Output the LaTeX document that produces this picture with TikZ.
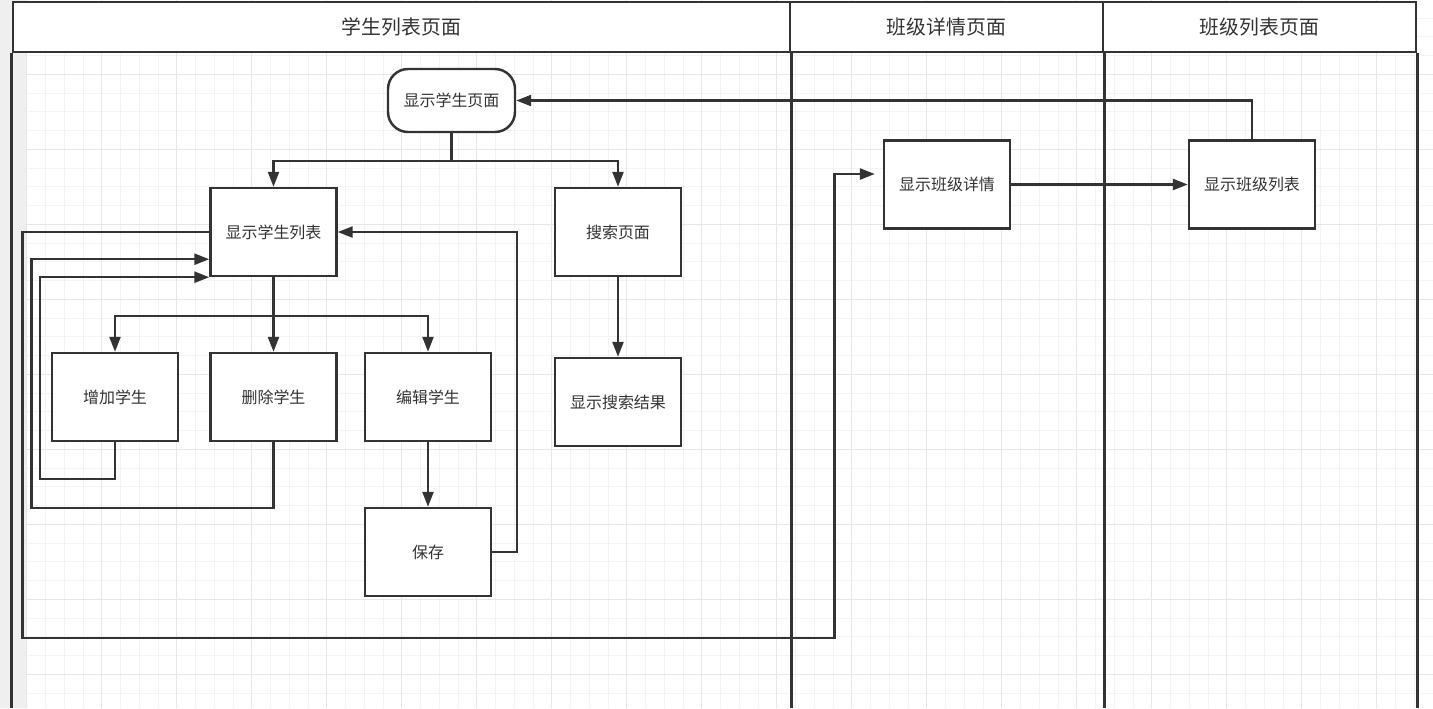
\documentclass[tikz,border=0pt]{standalone}
\usepackage{fontspec}
\setmainfont{Noto Sans CJK SC}
\usetikzlibrary{arrows.meta}
\definecolor{ink}{HTML}{333333}
\definecolor{pale}{HTML}{EFEFEF}
\definecolor{gridminor}{HTML}{F3F3F3}
\definecolor{gridmajor}{HTML}{E6E6E6}
\begin{document}
\begin{tikzpicture}[x=0.02cm, y=-0.02cm,
        box/.style={draw=ink, fill=white, line width=1.4pt, minimum width=2.52cm, minimum height=1.76cm,
            inner sep=0pt, text=ink, font=\fontsize{9.1pt}{11pt}\selectfont},
        startbox/.style={box, rounded corners=0.4cm, minimum width=2.54cm, minimum height=1.26cm},
        lanehead/.style={draw=ink, fill=white, line width=1.5pt, minimum height=1cm, inner sep=0pt,
            text=ink, font=\fontsize{11.3pt}{13pt}\selectfont},
        lane/.style={draw=ink, line width=1.5pt},
        flow/.style={draw=ink, line width=1.4pt, -{Triangle[length=0.3cm, width=0.22cm]}}]
            \useasboundingbox (0,0) rectangle (1433,708);
            \fill[pale] (0,0) rectangle (26.7,708);
            \fill[white] (26.7,0) rectangle (1433,708);
            \foreach \n in {0,...,75}
                \draw[gridminor, line width=0.5pt] ({26.7+18.75*\n},0) -- ({26.7+18.75*\n},708);
            \foreach \k in {-2,...,34}
                \draw[gridminor, line width=0.5pt] (26.7,{55.5+18.75*\k}) -- (1433,{55.5+18.75*\k});
            \foreach \n in {0,4,...,72}
                \draw[gridmajor, line width=0.5pt] ({26.7+18.75*\n},0) -- ({26.7+18.75*\n},708);
            \foreach \k in {1,5,...,33}
                \draw[gridmajor, line width=0.5pt] (26.7,{55.5+18.75*\k}) -- (1433,{55.5+18.75*\k});
            \coordinate (bottom) at (0,708);
            \node[lanehead, minimum width=15.54cm] (stu-lane) at (401.5,27) {学生列表页面};
            \node[lanehead, minimum width=6.26cm] (det-lane) at (946.5,27) {班级详情页面};
            \node[lanehead, minimum width=6.26cm] (cls-lane) at (1259.5,27) {班级列表页面};
            \draw[lane] (stu-lane.south west) -- (stu-lane.south west |- bottom);
            \draw[lane] (stu-lane.south east) -- (stu-lane.south east |- bottom);
            \draw[lane] (det-lane.south east) -- (det-lane.south east |- bottom);
            \draw[lane] (cls-lane.south east) -- (cls-lane.south east |- bottom);
            \node[startbox] (start) at (451.5,100.5) {显示学生页面};
            \node[box] (list) at (273.5,232) {显示学生列表};
            \node[box] (search) at (618,232) {搜索页面};
            \node[box] (add) at (115,397) {增加学生};
            \node[box] (del) at (273.5,397) {删除学生};
            \node[box] (edit) at (428,397) {编辑学生};
            \node[box] (save) at (428,552) {保存};
            \node[box] (result) at (618,402) {显示搜索结果};
            \node[box] (det) at (947,184.5) {显示班级详情};
            \node[box] (cls) at (1252,184.5) {显示班级列表};
            \coordinate (det-in) at ([xshift=-0.16cm, yshift=0.21cm]det.west);
            \draw[flow] (start.south) -- ++(0,28) -| (list.north);
            \draw[flow] (start.south) -- ++(0,28) -| (search.north);
            \draw[flow] (list.south) -- ++(0,39) -| (add.north);
            \draw[flow] (list.south) -- (del.north);
            \draw[flow] (list.south) -- ++(0,39) -| (edit.north);
            \draw[flow] (add.south) -- ++(0,37) -- ++(-75,0) |- (list.south west);
            \draw[flow] (del.south) -- ++(0,66) -- ++(-242,0) |- ([yshift=0.36cm]list.south west);
            \draw[flow] (edit) -- (save);
            \draw[flow] (save.east) -- ++(25,0) |- (list.east);
            \draw[flow] (search) -- (result);
            \draw[flow] (list.west) -- ++(-187,0) -- ++(0,406) -- ++(812,0) |- (det-in);
            \draw[flow] (det) -- (cls);
            \draw[flow] (cls.north) |- (start.east);
        \end{tikzpicture}
\end{document}
